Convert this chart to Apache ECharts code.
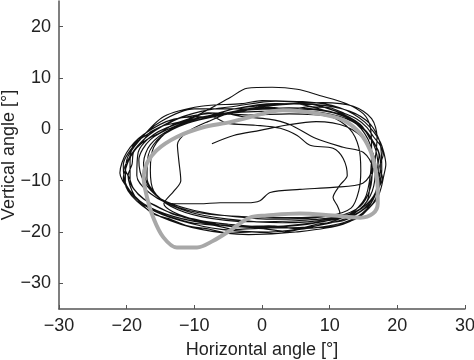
<!DOCTYPE html>
<html>
<head>
<meta charset="utf-8">
<script src="https://cdn.jsdelivr.net/npm/echarts@6/dist/echarts.min.js"></script>
<style>html,body{margin:0;padding:0;background:#fff}#c{width:474px;height:360px}</style>
</head>
<body>
<div id="c"></div>
<script>
// Tick labels
var xTicks = [-30, -20, -10, 0, 10, 20, 30];
var yTicks = [-30, -20, -10, 0, 10, 20];

// Recorded eye trace (horizontal, vertical angle in degrees), one continuous path
var traceLoop0 = [[-7.4,-2.8],[-4.2,-1.2],[-0.3,-0.2],[3.5,0.8],[8,1.5],[12.5,0.5],[15.5,-2.5],[16.8,-7],[16.3,-12],[14.5,-15.5],[10,-17.5],[3,-18.2],[-5,-17.5],[-11,-16],[-15,-13.5],[-17,-9.5],[-16.8,-5],[-15,-1.5],[-11,1.2]];
var traceLoop1 = [[-5,3],[-2,3.8],[1,4.3],[4,3.9],[7,4.4],[9.5,3.6],[12,2.8],[14,1.2],[15.5,-0.5],[16.6,-2.8],[17.3,-5],[17.1,-7.5],[17.5,-10],[16.8,-12.5],[16,-14.5],[14,-16.5],[12,-17.8],[8.5,-18.4],[5,-19.3],[1,-18.8],[-3,-19],[-6.5,-18.6],[-10,-17.5],[-13,-16.6],[-15.5,-15],[-17.5,-13.6],[-19,-11.5],[-19.6,-9.5],[-20.3,-7.5],[-19.5,-5.2],[-19,-3],[-17.2,-1.2],[-15,0.5],[-12,1.5],[-9.5,2.8]];
var traceLoop2 = [[-4.7,6.2],[-2.2,8],[1.5,8.2],[5.2,7.8],[8.5,6.6],[12.5,5],[15,3],[16,0.5],[16.2,-4],[16,-9],[15.2,-13.5],[13,-16.5],[8,-18.8],[1,-20],[-6,-19.5],[-12,-17.8],[-16.5,-15.5],[-19.5,-12],[-21,-8.5],[-20,-4.5],[-17.5,-1],[-13,2]];
var traceLoop3 = [[-7.5,2.5],[-5.2,1.2],[-1,0.8],[2.7,0.2],[5.2,-1.2],[7.1,-3.1],[10.5,-3.7],[12,-5.7],[12.6,-9],[11.5,-10.9],[10.5,-13.3],[11.1,-14.8],[11.5,-16.2],[8,-17.2],[2,-17.5],[-4,-17],[-10,-15.8],[-15,-13.5],[-17.5,-10],[-18.2,-6],[-16.5,-2],[-12.5,0.8]];
var traceLoop4 = [[-7,3],[-4,4],[-1,4.5],[2,4.9],[5,5],[7.5,4.4],[10,4.2],[12.2,3.1],[14,2],[15.5,0.4],[16.5,-1.5],[17.5,-3.2],[17.9,-5],[17.4,-7.2],[17.8,-9.5],[17.2,-11.6],[16.8,-13.5],[15.8,-15.4],[14.5,-16.8],[12,-18.2],[9,-19],[5.5,-19.5],[2,-20.3],[-1.5,-20],[-5,-20.2],[-8,-19.4],[-11,-18.8],[-13.8,-17.4],[-16,-16.5],[-17.8,-14.6],[-18.8,-13],[-19.5,-11],[-19.8,-9],[-19.2,-6.8],[-19,-4.5],[-17.6,-2.3],[-16.5,-0.5],[-14.2,0.9],[-12,2.2]];
var traceLoop5 = [[-6,3.2],[-3,2.5],[1,2],[4,1],[8,-1.8],[12,-3.5],[15,-4.5],[16.3,-7.5],[16,-11.5],[14.5,-15],[11,-17],[5,-17.8],[-2,-18],[-9,-17],[-13.5,-15],[-16,-12],[-16.5,-8],[-16,-3.5],[-13.5,0],[-9,2]];
var traceLoop6 = [[-3,3.8],[3,4.8],[9,5.2],[13.5,4.5],[16.2,2.1],[17,-1.5],[16.7,-6],[16,-10.5],[15.5,-14],[13,-16.8],[7,-18.3],[0,-19],[-7,-18.5],[-13,-17],[-17.5,-14.5],[-20,-11],[-20.5,-7],[-18.5,-2.5],[-15,1.5],[-10,4]];
var traceLoop7 = [[-2,4],[4,4.2],[10,3.5],[14,1],[16,-3],[16.3,-7.5],[14.9,-10.5],[10.5,-11.3],[5.6,-11.7],[1.2,-12.3],[-0.3,-13.9],[-2.2,-14.3],[-6.2,-14.3],[-9.2,-14.5],[-13,-14.5],[-16.5,-12.5],[-18.5,-9],[-18.3,-4.5],[-16,-1],[-11.5,1.5]];
var traceLoop8 = [[-6,3],[0,3.5],[6,3.5],[11.5,2.5],[15,0],[16.8,-4],[17.2,-9],[16.5,-13],[14,-16],[9,-18],[2,-19],[-5,-18.5],[-11,-17.2],[-14.5,-14.5],[-13,-12],[-12,-10],[-12.3,-6],[-12.5,-3],[-11,-0.5],[-8,1.5]];
var traceLoop9 = [[-4,3.5],[2,4],[8,3.8],[13,2],[16,-1.5],[17.5,-6],[17.2,-11],[15.5,-15.5],[12,-18.5],[5,-20],[-2,-20.5],[-9,-19.5],[-15,-17],[-18.5,-14],[-20.2,-10.5],[-20,-6],[-18,-2],[-14.5,2.5],[-9,4.5]];
var traceLoop10 = [[-3,5],[0,5.6],[3,5.5],[6,5.4],[9,5],[11.5,4.2],[13.5,3],[15.2,1.4],[16.5,-0.5],[17.5,-2.5],[18,-4.5],[18.3,-6.8],[18,-9],[17.6,-11.4],[17,-13.5],[15.7,-15.5],[14.5,-17],[12.3,-18.3],[10,-19],[6.5,-19.2],[3,-19.8],[-0.5,-19.3],[-4,-19.5],[-7,-18.7],[-10,-18.3],[-13,-17.3],[-15.5,-16],[-17.4,-14.8],[-19,-13],[-20,-11.3],[-20.5,-9.5],[-20.1,-7.5],[-19.5,-5.5],[-18.5,-3.6],[-17,-2],[-15,-0.6],[-13,1],[-10.5,2.1],[-8,3.2]];
var traceLoop11 = [[-2,2.8],[4,3],[10,2.5],[13,0],[14.3,-3.5],[14.6,-8],[14.3,-12],[13.2,-15.3],[10,-16.8],[4,-17.2],[-3,-17],[-9.5,-16.2],[-14.5,-14],[-17,-10.5],[-17.5,-6.5],[-16.5,-3],[-13.5,0],[-9,2]];
var traceLoop12 = [[-4,4],[2,5],[8,4.8],[13,3.5],[16,1],[17.5,-3],[17.7,-8],[16.8,-12.5],[14.5,-16],[10,-18.3],[4,-19.2],[-3,-19],[-9,-18],[-14,-16],[-17.5,-13.5],[-19.5,-10],[-19.5,-6],[-17.5,-2],[-13.5,1.5],[-9,3.5]];
var traceLoop13 = [[-4,4.5],[2,5.5],[7,5],[11,3.5],[14.5,1],[16,-2]];

// Reference (template) path, thick grey
var templatePath = [[-0.3,2.9],[3.1,3.7],[8.1,3.1],[12,1.8],[14.5,-0.8],[16,-4.1],[16.7,-7.4],[17.1,-11.3],[17.1,-14.5],[16.4,-16.4],[14.5,-17.2],[10.5,-16.8],[5.6,-16.4],[0.7,-16.8],[-1.8,-17.2],[-4.7,-19.7],[-7.2,-21.7],[-9.6,-23],[-12.6,-23],[-14.6,-21],[-16.1,-17.1],[-17,-13.2],[-17.5,-9.3],[-17,-6.6],[-15.6,-4.1],[-12.6,-1.5],[-8.7,0.4],[-4.7,1.4],[-0.3,2.9]];

var trace = [].concat(traceLoop0, traceLoop1, traceLoop2, traceLoop3, traceLoop4, traceLoop5, traceLoop6,
  traceLoop7, traceLoop8, traceLoop9, traceLoop10, traceLoop11, traceLoop12, traceLoop13);

var fmt = function (v) { return String(v).replace('-', '\u2212'); };
var font = 'Liberation Sans, Arial, sans-serif';

var chart = echarts.init(document.getElementById('c'), null, {renderer: 'canvas'});
chart.setOption({
  animation: false,
  backgroundColor: '#fff',
  grid: {left: 59, right: 9, top: 1, bottom: 51, containLabel: false, outerBoundsMode: 'none'},
  xAxis: {
    type: 'value', min: -30, max: 30, interval: 10,
    name: 'Horizontal angle [°]', nameLocation: 'middle', nameGap: 32, nameMoveOverlap: false,
    nameTextStyle: {fontSize: 18, color: '#222', fontFamily: font},
    axisLine: {show: true, onZero: false, lineStyle: {color: '#555', width: 1.5}},
    axisTick: {show: true, inside: true, length: 4, lineStyle: {color: '#555'}, customValues: xTicks},
    axisLabel: {fontSize: 18, color: '#222', margin: 8, fontFamily: font, formatter: fmt, customValues: xTicks},
    splitLine: {show: false}
  },
  yAxis: {
    type: 'value', min: -35, max: 25,
    name: 'Vertical angle [°]', nameLocation: 'middle', nameGap: 41, nameRotate: 90, nameMoveOverlap: false,
    nameTextStyle: {fontSize: 18, color: '#222', fontFamily: font},
    axisLine: {show: true, onZero: false, lineStyle: {color: '#555', width: 1.5}},
    axisTick: {show: true, inside: true, length: 4, lineStyle: {color: '#555'}, customValues: yTicks},
    axisLabel: {fontSize: 18, color: '#222', margin: 8, fontFamily: font, formatter: fmt, customValues: yTicks},
    splitLine: {show: false}
  },
  series: [
    {type: 'line', data: trace, showSymbol: false, smooth: 0.3,
     lineStyle: {color: '#111', width: 1.15}},
    {type: 'line', data: templatePath, showSymbol: false, smooth: 0.35,
     lineStyle: {color: '#a8a8a8', width: 4}}
  ]
});
</script>
</body>
</html>
